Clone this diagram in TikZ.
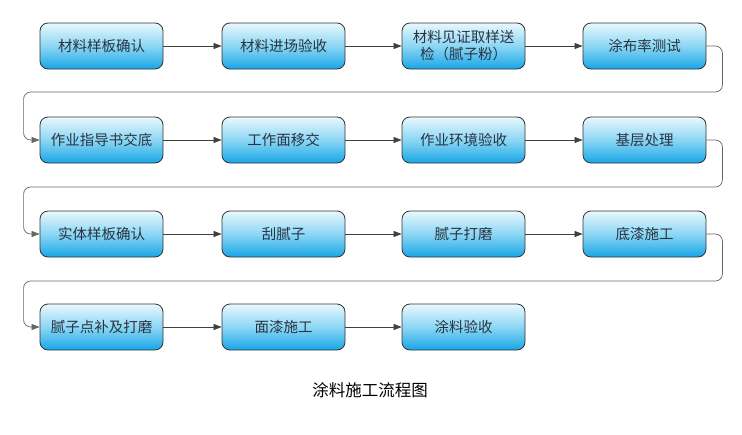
\documentclass[tikz,border=0pt]{standalone}
\usepackage{fontspec}
\setmainfont{Noto Sans CJK SC}
\usetikzlibrary{arrows.meta,calc}
\definecolor{btop}{RGB}{232,248,253}
\definecolor{bmid}{RGB}{140,214,244}
\definecolor{bbot}{RGB}{24,166,230}
\definecolor{btext}{RGB}{40,52,66}
\begin{document}
\begin{tikzpicture}[x=1pt,y=-1pt,
  box/.style={draw=black!80, line width=0.8pt, rounded corners=8pt, minimum width=123pt, minimum height=46pt, inner sep=1pt,
    top color=btop, bottom color=bbot, middle color=bmid,
    font=\fontsize{14.5}{17}\selectfont, text=btext, align=center},
  conn/.style={draw=black!75, line width=0.7pt, -{Triangle[length=8pt,width=6pt]}},
  wrap/.style={draw=black!60, line width=0.7pt, rounded corners=7pt, -{Triangle[length=8pt,width=6pt]}}]
\useasboundingbox (0,0) rectangle (742,434);
\fill[white] (0,0) rectangle (742,434);
\node[box] (b1) at (101.5,46) {材料样板确认};
\node[box] (b2) at (283.5,46) {材料进场验收};
\node[box] (b3) at (463.5,46) {材料见证取样送\\检（腻子粉）};
\node[box] (b4) at (644.5,46) {涂布率测试};
\node[box] (b5) at (101.5,140) {作业指导书交底};
\node[box] (b6) at (283.5,140) {工作面移交};
\node[box] (b7) at (463.5,140) {作业环境验收};
\node[box] (b8) at (644.5,140) {基层处理};
\node[box] (b9) at (101.5,234) {实体样板确认};
\node[box] (b10) at (283.5,234) {刮腻子};
\node[box] (b11) at (463.5,234) {腻子打磨};
\node[box] (b12) at (644.5,234) {底漆施工};
\node[box] (b13) at (101.5,327) {腻子点补及打磨};
\node[box] (b14) at (283.5,327) {面漆施工};
\node[box] (b15) at (463.5,327) {涂料验收};
\draw[conn] (b1) -- (b2);
\draw[conn] (b2) -- (b3);
\draw[conn] (b3) -- (b4);
\draw[conn] (b5) -- (b6);
\draw[conn] (b6) -- (b7);
\draw[conn] (b7) -- (b8);
\draw[conn] (b9) -- (b10);
\draw[conn] (b10) -- (b11);
\draw[conn] (b11) -- (b12);
\draw[conn] (b13) -- (b14);
\draw[conn] (b14) -- (b15);
\draw[wrap] (b4.east) -- ++(16,0) -- ++(0,46) -| ([xshift=-16pt]b5.west) -- (b5.west);
\draw[wrap] (b8.east) -- ++(16,0) -- ++(0,47) -| ([xshift=-16pt]b9.west) -- (b9.west);
\draw[wrap] (b12.east) -- ++(16,0) -- ++(0,47) -| ([xshift=-16pt]b13.west) -- (b13.west);
\node[font=\fontsize{16.5}{18}\selectfont] (title) at (370,390) {涂料施工流程图};
\end{tikzpicture}
\end{document}
